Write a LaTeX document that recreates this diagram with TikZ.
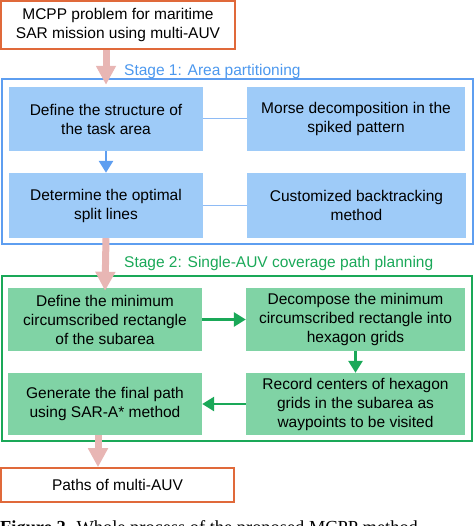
\documentclass[tikz,border=0pt]{standalone}
\usepackage{fontspec}
\setmainfont{Liberation Sans}
\newfontfamily\capfont{Liberation Serif}
\usetikzlibrary{arrows.meta,calc}

\definecolor{ioorange}{HTML}{E0693A}
\definecolor{pinkarr}{HTML}{E8B6B4}
\definecolor{bluefill}{HTML}{9ECBF8}
\definecolor{blueline}{HTML}{5E9EF0}
\definecolor{bluetxt}{HTML}{4C98EE}
\definecolor{greenfill}{HTML}{80D3A5}
\definecolor{greenline}{HTML}{1AA858}

\begin{document}
\begin{tikzpicture}[x=1pt,y=-1pt,
  every node/.style={font=\fontsize{15.5}{19}\selectfont,align=center,inner sep=0pt},
  iobox/.style={draw=ioorange,line width=1.6pt,fill=white,minimum width=234pt},
  bluebox/.style={fill=bluefill,minimum height=64pt},
  greenbox/.style={fill=greenfill,minimum height=63pt},
  bigarrow/.style={draw=pinkarr,line width=7pt,-{Triangle[width=19pt,length=19pt]}},
  smallarrow/.style={line width=2.8pt,-{Triangle[width=14pt,length=12pt]}},
  stagelab/.style={anchor=west}
]
\useasboundingbox (0,0) rectangle (474,526);
\clip (0,0) rectangle (474,526);

% input and output
\node[iobox,minimum height=48pt] (prob) at (118,25) {MCPP problem for maritime\\SAR mission using multi-AUV};
\node[iobox,minimum width=233pt,minimum height=34pt] (paths) at (117.5,485) {Paths of multi-AUV};

% stage 1
\draw[blueline,line width=1.8pt] (2,79) rectangle (473,244);
\node[stagelab,text=bluetxt] (st1) at (124,71) {Stage 1: Area partitioning};
\node[bluebox,minimum width=194pt] (struct) at (106,119) {Define the structure of\\the task area};
\node[bluebox,minimum width=218pt] (morse) at (356,119) {Morse decomposition in the\\spiked pattern};
\node[bluebox,minimum width=194pt,minimum height=65pt] (split) at (106,205.5) {Determine the optimal\\split lines};
\node[bluebox,minimum width=219pt,minimum height=65pt] (backtr) at (356.5,205.5) {Customized backtracking\\method};
\draw[blueline!70,line width=1pt] (struct.east) -- (morse.west);
\draw[blueline!70,line width=1pt] (split.east) -- (backtr.west);
\draw[smallarrow,blueline] (struct.south) -- (split.north);

% stage 2
\draw[greenline,line width=1.8pt] (2,276) rectangle (472,441);
\node[stagelab,text=greenline] (st2) at (124,263) {Stage 2: Single-AUV coverage path planning};
\node[greenbox,minimum width=194pt] (rect) at (105,319.5) {Define the minimum\\circumscribed rectangle\\of the subarea};
\node[greenbox,minimum width=219pt] (hexa) at (355.5,319.5) {Decompose the minimum\\circumscribed rectangle into\\hexagon grids};
\node[greenbox,minimum width=194pt,minimum height=62pt] (final) at (105,404) {Generate the final path\\using SAR-A* method};
\node[greenbox,minimum width=219pt,minimum height=62pt] (record) at (355.5,404) {Record centers of hexagon\\grids in the subarea as\\waypoints to be visited};
\draw[smallarrow,greenline] (rect.east) -- (hexa.west);
\draw[smallarrow,greenline] (hexa.south) -- (record.north);
\draw[smallarrow,greenline] (record.west) -- (final.east);

% flow between stages
\draw[bigarrow] (struct.north |- prob.south) -- ([yshift=2pt]struct.north);
\draw[bigarrow] (split.south) -- ([yshift=-3pt]rect.north);
\draw[bigarrow] ([xshift=-7pt]final.south) -- ([xshift=-7pt]final.south |- paths.north);

% caption, cut by the frame
\node[anchor=base west,font=\capfont\fontsize{18.4}{22}\selectfont] (cap) at (0,533) {\textbf{Figure 2.} Whole process of the proposed MCPP method.};
\end{tikzpicture}
\end{document}
